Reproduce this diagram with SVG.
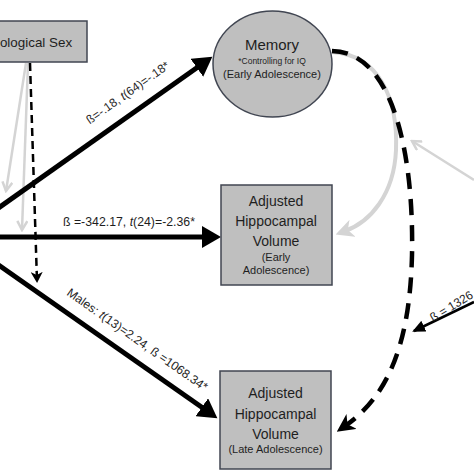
<svg xmlns="http://www.w3.org/2000/svg" width="474" height="474" viewBox="0 0 474 474">
<style>
.box{fill:#bfbfbf;stroke:#414652;stroke-width:1.5}
.t{font-family:"Liberation Sans",Arial,sans-serif;fill:#1e1e1e}
.thick{fill:none;stroke:#000;stroke-width:5}
.grey{fill:none;stroke:#d4d4d4;stroke-width:2.5}
.dash{fill:none;stroke:#000;stroke-width:2.5;stroke-dasharray:8 5}
</style>
<defs>
<marker id="big" markerUnits="userSpaceOnUse" markerWidth="20" markerHeight="22" refX="10" refY="11" orient="auto"><path d="M0,0 L19,11 L0,22 z" fill="#000"/></marker>
<marker id="gv" markerUnits="userSpaceOnUse" markerWidth="12" markerHeight="12" refX="10" refY="6" orient="auto"><path d="M1,1 L10,6 L1,11" fill="none" stroke="#d4d4d4" stroke-width="2.5"/></marker>
<marker id="dv" markerUnits="userSpaceOnUse" markerWidth="12" markerHeight="12" refX="9" refY="6" orient="auto"><path d="M0,0 L11,6 L0,12 L3,6 z" fill="#000"/></marker>
<marker id="cb" markerUnits="userSpaceOnUse" markerWidth="18" markerHeight="18" refX="8" refY="9" orient="auto"><path d="M0,0 L18,9 L0,18 L5,9 z" fill="#000"/></marker>
<marker id="cg" markerUnits="userSpaceOnUse" markerWidth="18" markerHeight="18" refX="8" refY="9" orient="auto"><path d="M0,0 L18,9 L0,18 L5,9 z" fill="#d4d4d4"/></marker>
<marker id="sb" markerUnits="userSpaceOnUse" markerWidth="13" markerHeight="12" refX="11" refY="6" orient="auto"><path d="M0,0 L13,6 L0,12 z" fill="#000"/></marker>
</defs>

<g id="connectors">
<path class="grey" d="M26,63 L6,191" marker-end="url(#gv)"/>
<path class="grey" d="M28,63 L22,230" marker-end="url(#gv)"/>
<path class="dash" d="M30,63 L37,281" marker-end="url(#dv)"/>
<path class="thick" d="M-10,214 L205,62" marker-end="url(#big)"/>
<path class="thick" d="M-10,237 L212,237" marker-end="url(#big)"/>
<path class="thick" d="M-10,259 L210,413" marker-end="url(#big)"/>
<path d="M332,52 C380,55 398,100 396,150 C394,195 370,222 345,231" fill="none" stroke="#d4d4d4" stroke-width="4" marker-end="url(#cg)"/>
<path d="M332,51 C395,52 414,160 412,255 C410,340 390,395 345,426" fill="none" stroke="#000" stroke-width="4.5" stroke-dasharray="16 10" marker-end="url(#cb)"/>
<path class="grey" d="M474,180 L412,141" marker-end="url(#gv)"/>
<path d="M474,302 L414,331" fill="none" stroke="#000" stroke-width="2.5" marker-end="url(#sb)"/>
<text class="t" font-size="12" text-anchor="middle" transform="translate(130,96) rotate(-35.2)">ß=-.18, <tspan font-style="italic">t</tspan>(64)=-.18*</text>
<text class="t" font-size="12.3" text-anchor="middle" x="129" y="226">ß =-342.17, <tspan font-style="italic">t</tspan>(24)=-2.36*</text>
<text class="t" font-size="12.2" text-anchor="middle" transform="translate(135,343) rotate(35.1)">Males: <tspan font-style="italic">t</tspan>(13)=2.24, ß =1068.34*</text>
<text class="t" font-size="12" transform="translate(433,322) rotate(-31)">ß = 1326</text>
</g>

<g id="sex">
<rect class="box" x="-30" y="21" width="117" height="41"/>
<text class="t" font-size="13.4" x="-12" y="47">Biological Sex</text>
</g>

<g id="memory">
<ellipse class="box" cx="272.5" cy="64" rx="59.5" ry="53"/>
<text class="t" font-size="15" text-anchor="middle" x="272" y="50">Memory</text>
<text class="t" font-size="8.5" text-anchor="middle" x="272" y="64">*Controlling for IQ</text>
<text class="t" font-size="11" text-anchor="middle" x="272" y="78">(Early Adolescence)</text>
</g>

<g id="early">
<rect class="box" x="221" y="185" width="111" height="100"/>
<text class="t" font-size="14" text-anchor="middle" x="276" y="206">Adjusted</text>
<text class="t" font-size="14" text-anchor="middle" x="276" y="226">Hippocampal</text>
<text class="t" font-size="14" text-anchor="middle" x="276" y="246">Volume</text>
<text class="t" font-size="11" text-anchor="middle" x="276" y="261">(Early</text>
<text class="t" font-size="11" text-anchor="middle" x="276" y="274">Adolescence)</text>
</g>

<g id="late">
<rect class="box" x="220" y="371" width="111" height="98"/>
<text class="t" font-size="14" text-anchor="middle" x="275.5" y="398">Adjusted</text>
<text class="t" font-size="14" text-anchor="middle" x="275.5" y="419">Hippocampal</text>
<text class="t" font-size="14" text-anchor="middle" x="275.5" y="439">Volume</text>
<text class="t" font-size="11" text-anchor="middle" x="275.5" y="453">(Late Adolescence)</text>
</g>
</svg>
